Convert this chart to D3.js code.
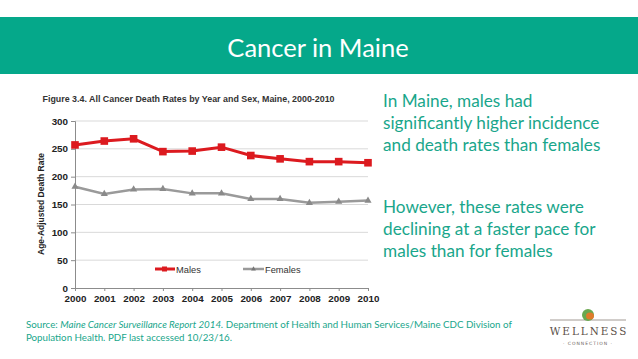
<!DOCTYPE html>
<html><head><meta charset="utf-8">
<script src="https://cdn.jsdelivr.net/npm/d3@7"></script>
<style>body{margin:0;background:#fff}svg{display:block}</style>
</head><body>
<svg id="c" width="638" height="359"></svg>
<script>
const years = [2000,2001,2002,2003,2004,2005,2006,2007,2008,2009,2010];
const males = [257,264,268,245,246,253,238,232,227,227,225];
const females = [182,169,177,178,170,170,160,160,153,155,157];
const yTicks = [0,50,100,150,200,250,300];
const seriesNames = ["Males","Females"];

const svg = d3.select("#c");
const teal = "#05a88a";
const textTeal = "#19a68b";

// header band
svg.append("rect").attr("x",0).attr("y",17).attr("width",638).attr("height",57).attr("fill",teal);
svg.append("text").attr("x",318).attr("y",56.5).attr("text-anchor","middle")
  .attr("font-family","Lato, 'Open Sans', sans-serif").attr("font-size",25.5)
  .attr("fill","#fff").text("Cancer in Maine");

// chart
const x = d3.scaleLinear().domain([2000,2010]).range([75,368]);
const y = d3.scaleLinear().domain([0,300]).range([288,121]);

svg.append("text").attr("x",42.5).attr("y",101.5)
  .attr("font-family","Arial, 'Liberation Sans', sans-serif").attr("font-weight","bold")
  .attr("font-size",8.9).attr("fill","#333")
  .text("Figure 3.4. All Cancer Death Rates by Year and Sex, Maine, 2000-2010");

// grid
svg.append("g").selectAll("line").data(yTicks.filter(d=>d>0)).join("line")
  .attr("x1",75).attr("x2",368).attr("y1",d=>y(d)).attr("y2",d=>y(d))
  .attr("stroke","#d9d9d9").attr("stroke-width",1);

const yAxis = svg.append("g").attr("transform","translate(75,0)")
  .call(d3.axisLeft(y).tickValues(yTicks).tickSize(4).tickPadding(3));
const xAxis = svg.append("g").attr("transform","translate(0,288)")
  .call(d3.axisBottom(x).tickValues(years).tickFormat(d3.format("d")).tickSize(3).tickPadding(4));
[yAxis,xAxis].forEach(g=>{
  g.selectAll("path,line").attr("stroke","#8c8c8c");
  g.selectAll("text").attr("font-family","Arial, 'Liberation Sans', sans-serif")
    .attr("font-weight","bold").attr("font-size",9.8).attr("fill","#222");
});

svg.append("text").attr("transform","translate(44,204) rotate(-90)").attr("text-anchor","middle")
  .attr("font-family","Arial, 'Liberation Sans', sans-serif").attr("font-weight","bold")
  .attr("font-size",8.5).attr("fill","#222").text("Age-Adjusted  Death  Rate");

const line = d3.line().x((d,i)=>x(years[i])).y(d=>y(d));
const red = "#dc1a1f", gray = "#9a9a9a";

svg.append("path").datum(females).attr("d",line).attr("fill","none")
  .attr("stroke",gray).attr("stroke-width",2.5);
const tri = d3.symbol().type(d3.symbolTriangle).size(22);
svg.append("g").selectAll("path").data(females).join("path")
  .attr("d",tri).attr("transform",(d,i)=>`translate(${x(years[i])},${y(d)})`).attr("fill","#8a8a8a");

svg.append("path").datum(males).attr("d",line).attr("fill","none")
  .attr("stroke",red).attr("stroke-width",3);
svg.append("g").selectAll("rect").data(males).join("rect")
  .attr("x",(d,i)=>x(years[i])-3.8).attr("y",d=>y(d)-3.8).attr("width",7.6).attr("height",7.6)
  .attr("fill",red);

// legend
const lg = svg.append("g").attr("font-family","Arial, 'Liberation Sans', sans-serif").attr("font-size",9.3).attr("fill","#333");
lg.append("line").attr("x1",155).attr("x2",175).attr("y1",269).attr("y2",269).attr("stroke",red).attr("stroke-width",3);
lg.append("rect").attr("x",162).attr("y",266.5).attr("width",5).attr("height",5).attr("fill",red);
lg.append("text").attr("x",176).attr("y",272.5).text(seriesNames[0]);
lg.append("line").attr("x1",243).attr("x2",264).attr("y1",269).attr("y2",269).attr("stroke",gray).attr("stroke-width",2.5);
lg.append("path").attr("d",d3.symbol().type(d3.symbolTriangle).size(10)).attr("transform","translate(253.5,269)").attr("fill","#777");
lg.append("text").attr("x",265).attr("y",272.5).text(seriesNames[1]);

// right text
const para = ["In Maine, males had","significantly higher incidence","and death rates than females"];
const para2 = ["However, these rates were","declining at a faster pace for","males than for females"];
const tf = "Lato, 'Open Sans', sans-serif";
const t1 = svg.append("text").attr("font-family",tf).attr("font-size",17.2).attr("fill",textTeal);
para.forEach((s,i)=>t1.append("tspan").attr("x",383).attr("y",106.5+i*22).text(s));
const t2 = svg.append("text").attr("font-family",tf).attr("font-size",17.2).attr("fill",textTeal);
para2.forEach((s,i)=>t2.append("tspan").attr("x",383).attr("y",213+i*22).text(s));

// source
const st = svg.append("text").attr("font-family",tf).attr("font-size",9.75).attr("fill",textTeal);
const l1 = st.append("tspan").attr("x",26).attr("y",328);
l1.append("tspan").text("Source: ");
l1.append("tspan").attr("font-style","italic").text("Maine Cancer Surveillance Report 2014.");
l1.append("tspan").text(" Department of Health and Human Services/Maine CDC Division of");
st.append("tspan").attr("x",26).attr("y",341).text("Population Health. PDF last accessed 10/23/16.");

// logo
const lo = svg.append("g");
lo.append("line").attr("x1",550).attr("x2",626).attr("y1",320).attr("y2",320).attr("stroke","#8a817a").attr("stroke-width",0.8);
lo.append("circle").attr("cx",588).attr("cy",315).attr("r",6).attr("fill","#6aa84f");
lo.append("ellipse").attr("cx",590).attr("cy",316).attr("rx",4).attr("ry",3.5).attr("fill","#e07b2a");
lo.append("text").attr("x",589).attr("y",334.5).attr("text-anchor","middle").attr("font-family","'DejaVu Serif Condensed', 'DejaVu Serif', serif")
  .attr("font-size",11.5).attr("letter-spacing",2).attr("fill","#5b5049").text("WELLNESS");
lo.append("text").attr("x",588).attr("y",345).attr("text-anchor","middle").attr("font-family","'DejaVu Sans', sans-serif")
  .attr("font-size",4.5).attr("letter-spacing",1).attr("fill","#6b625b").text("· CONNECTION ·");
</script>
</body></html>
